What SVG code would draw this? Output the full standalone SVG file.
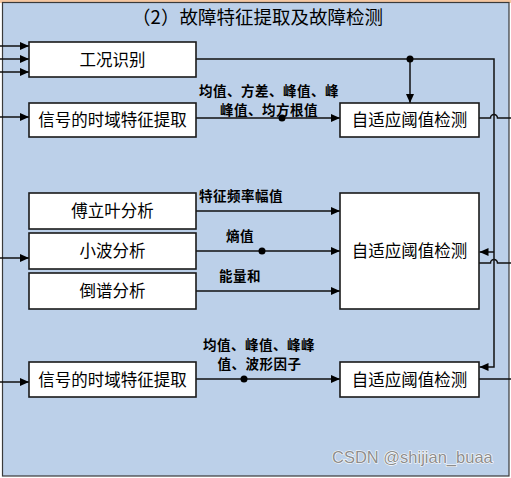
<svg xmlns="http://www.w3.org/2000/svg" width="511" height="478" viewBox="0 0 511 478">
<defs>
<style>
.box{fill:#fff;stroke:#1a1a1a;stroke-width:1.6}
.bt{font-family:"Noto Sans CJK SC","Noto Sans",sans-serif;font-size:16.5px;fill:#000;text-anchor:middle}
.lb{font-family:"Noto Sans CJK SC","Noto Sans",sans-serif;font-size:13.5px;letter-spacing:0.5px;font-weight:bold;fill:#000}
.ln{fill:none;stroke:#111;stroke-width:1.5}
.ar{marker-end:url(#ah)}
.dot{fill:#000}
</style>
<marker id="ah" markerUnits="userSpaceOnUse" markerWidth="10" markerHeight="10" refX="9" refY="5" orient="auto">
<path d="M0,1 L9,5 L0,9 z" fill="#000"/>
</marker>
</defs>
<rect x="0" y="0" width="511" height="3" fill="#F5C7A1"/>
<rect x="2.5" y="2.5" width="506.5" height="473.5" fill="#BCD0E9" stroke="#3a3a3a" stroke-width="1.2"/>
<text x="257.5" y="24" style="font-family:'Noto Sans CJK SC','Noto Sans',sans-serif;font-size:18.5px;fill:#000;text-anchor:middle">（2）故障特征提取及故障检测</text>

<g id="connectors">
<path class="ln ar" d="M0,46 H29"/>
<path class="ln ar" d="M0,59 H29"/>
<path class="ln ar" d="M0,72 H29"/>
<path class="ln ar" d="M0,117 H29"/>
<path class="ln ar" d="M0,258 H29"/>
<path class="ln ar" d="M0,382 H29"/>
<path class="ln ar" d="M196,59 H494 V367 H479.5"/>
<path class="ln ar" d="M494,252 H479.5"/>
<path class="ln ar" d="M410,59 V103"/>
<circle class="dot" cx="410" cy="59" r="3.5"/>
<path class="ln ar" d="M196,118 H340"/>
<circle class="dot" cx="282" cy="118" r="3.5"/>
<path class="ln" d="M479,118 H490.5 A3.5,3.5 0 0 1 497.5,118 H511"/>
<path class="ln ar" d="M196,211 H340"/>
<path class="ln ar" d="M196,251 H340"/>
<circle class="dot" cx="262" cy="251" r="3.5"/>
<path class="ln ar" d="M196,291 H340"/>
<path class="ln" d="M479,263 H490.5 A3.5,3.5 0 0 1 497.5,263 H511"/>
<path class="ln ar" d="M196,379 H340"/>
<circle class="dot" cx="244" cy="379" r="3.5"/>
<path class="ln" d="M479,379 H511"/>
<text class="lb" text-anchor="middle"><tspan x="269" y="95.5">均值、方差、峰值、峰</tspan><tspan x="269" y="115.2">峰值、均方根值</tspan></text>
<text class="lb" x="199" y="201">特征频率幅值</text>
<text class="lb" x="240" y="241" text-anchor="middle">熵值</text>
<text class="lb" x="219" y="281">能量和</text>
<text class="lb" text-anchor="middle"><tspan x="259" y="349.5">均值、峰值、峰峰</tspan><tspan x="259.5" y="369.2">值、波形因子</tspan></text>
</g>

<g id="n_gongkuang">
<rect class="box" x="29" y="42" width="167" height="35"/>
<text class="bt" x="112.5" y="66">工况识别</text>
</g>
<g id="n_time1">
<rect class="box" x="29" y="103" width="167" height="34"/>
<text class="bt" x="112.5" y="126">信号的时域特征提取</text>
</g>
<g id="n_det1">
<rect class="box" x="340" y="103" width="139" height="34"/>
<text class="bt" x="409.5" y="126">自适应阈值检测</text>
</g>
<g id="n_fourier">
<rect class="box" x="29" y="193" width="167" height="36"/>
<text class="bt" x="112.5" y="217">傅立叶分析</text>
</g>
<g id="n_wavelet">
<rect class="box" x="29" y="233" width="167" height="36"/>
<text class="bt" x="112.5" y="257">小波分析</text>
</g>
<g id="n_cepstrum">
<rect class="box" x="29" y="273" width="167" height="36"/>
<text class="bt" x="112.5" y="297">倒谱分析</text>
</g>
<g id="n_det2">
<rect class="box" x="340" y="193" width="139" height="116"/>
<text class="bt" x="409.5" y="257">自适应阈值检测</text>
</g>
<g id="n_time2">
<rect class="box" x="29" y="362" width="167" height="35"/>
<text class="bt" x="112.5" y="386">信号的时域特征提取</text>
</g>
<g id="n_det3">
<rect class="box" x="340" y="362" width="139" height="35"/>
<text class="bt" x="409.5" y="386">自适应阈值检测</text>
</g>
<text x="332" y="463" style="font-family:'Liberation Sans',Arial,sans-serif;font-size:16.5px;fill:#8d8d8d;stroke:#ffffff;stroke-width:1.2;paint-order:stroke">CSDN @shijian_buaa</text>
</svg>
